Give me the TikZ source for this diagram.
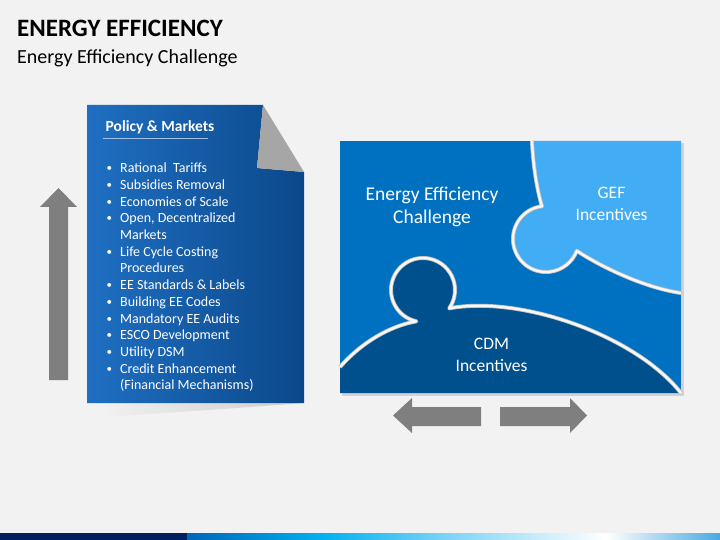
\documentclass[tikz,border=0pt]{standalone}
\usepackage{fontspec}
\setmainfont{Carlito}
\definecolor{bggray}{HTML}{F2F2F2}
\definecolor{arrowgray}{HTML}{7F7F7F}
\definecolor{flapgray}{HTML}{A6A6A6}
\definecolor{cardL}{HTML}{1F6FC2}
\definecolor{cardR}{HTML}{0B488A}
\definecolor{headline}{HTML}{9FBFE3}
\definecolor{midblue}{HTML}{0070C0}
\definecolor{gefblue}{HTML}{42ACF5}
\definecolor{cdmblue}{HTML}{01508E}
\definecolor{navy}{HTML}{002060}
\definecolor{stripeA}{HTML}{0066B8}
\definecolor{stripeB}{HTML}{00B0F0}
\definecolor{stripeC}{HTML}{80D4F6}
\definecolor{stripeD}{HTML}{4AA8E0}
\pgfdeclarehorizontalshading{stripe}{100bp}{color(0bp)=(stripeA); color(25bp)=(stripeA); color(37.6bp)=(stripeB); color(49.7bp)=(stripeC); color(64.3bp)=(white); color(75bp)=(stripeD); color(100bp)=(stripeD)}
\begin{document}
\begin{tikzpicture}[x=1pt, y=-1pt, line join=round, font=\fontsize{14}{16.7}\selectfont,
  seam/.style={draw=white!94!gray, line width=2.4pt, preaction={draw=gray!50, line width=4pt}},
  bigarrow/.style={fill=arrowgray},
  item/.style={anchor=base west, inner sep=0pt, text=white},
  piece/.style={text=white, align=center, inner sep=0pt, font=\fontsize{17.5}{22}\selectfont}]
\useasboundingbox (0,0) rectangle (720,540);
\fill[bggray] (0,0) rectangle (720,540);
% title
\node[anchor=base west, inner sep=0pt, font=\fontsize{25}{30}\selectfont\bfseries] (title) at (17,37) {ENERGY EFFICIENCY};
\node[anchor=base west, inner sep=0pt, font=\fontsize{20}{24}\selectfont] (subtitle) at (17,64) {Energy Efficiency Challenge};
% up arrow
\fill[bigarrow] (49,380) -- (49,207) -- (40,207) -- (58.5,188) -- (77,207) -- (68,207) -- (68,380) -- cycle;
% policy card
\shade[left color=bggray, right color=gray!40] (100,403) -- (304,403) .. controls (250,407) and (170,413) .. (100,417) -- cycle;
\shade[left color=cardL, right color=cardR] (87,105) -- (263,105) -- (257,168) -- (304,172) -- (304,403) -- (87,403) -- cycle;
\fill[flapgray] (263,105) -- (304,172) -- (257,168) -- cycle;
\node[item, font=\fontsize{15.5}{18}\selectfont\bfseries] (head) at (105.5,132) {Policy \& Markets};
\draw[headline, line width=0.6pt] (103,138) -- (208,138);
\foreach \bul/\lbl [count=\i from 0] in {1/Rational\ \ Tariffs, 1/Subsidies Removal, 1/Economies of Scale,
    1/{Open, Decentralized}, 0/Markets, 1/Life Cycle Costing, 0/Procedures, 1/EE Standards \& Labels,
    1/Building EE Codes, 1/Mandatory EE Audits, 1/ESCO Development, 1/Utility DSM,
    1/Credit Enhancement, 0/(Financial Mechanisms)}{
  \node[item] (item\i) at (120,{172.7+16.7*\i}) {\lbl};
  \ifnum\bul=1 \node[item, font=\fontsize{11}{13}\selectfont] (dot\i) at (106.5,{171.7+16.7*\i}) {\textbullet}; \fi
}
% puzzle
\fill[gray!35] (342,143) rectangle (684,396);
\fill[midblue] (340,141) rectangle (681,393);
\fill[gefblue] (532,141) .. controls (533,165) and (537,190) .. (541.98,206.25)
  arc[start angle=-97, end angle=-339, radius=33] .. controls (595,263) and (640,287) .. (681,293)
  -- (681,141) -- cycle;
\draw[seam] (532,141) .. controls (533,165) and (537,190) .. (541.98,206.25)
  arc[start angle=-97, end angle=-339, radius=33] .. controls (595,263) and (640,287) .. (681,293);
\fill[cdmblue] (340,367) .. controls (362,342) and (390,326) .. (416.35,321.3)
  arc[start angle=102, end angle=395, radius=32] .. controls (520,295) and (635,335) .. (681,393)
  -- (340,393) -- cycle;
\draw[seam] (340,367) .. controls (362,342) and (390,326) .. (416.35,321.3)
  arc[start angle=102, end angle=395, radius=32] .. controls (520,295) and (635,335) .. (681,393);
\node[piece, font=\fontsize{19.5}{23}\selectfont] (eec) at (432,206.5) {Energy Efficiency\\Challenge};
\node[piece] (gef) at (611.5,203.7) {GEF\\Incentives};
\node[piece] (cdm) at (491.5,354.5) {CDM\\Incentives};
% side arrows
\fill[bigarrow] (481,407) -- (412,407) -- (412,398) -- (393,415.5) -- (412,433) -- (412,426) -- (481,426) -- cycle;
\fill[bigarrow] (500,407) -- (570,407) -- (570,398) -- (587,415.5) -- (570,433) -- (570,426) -- (500,426) -- cycle;
% bottom stripe
\fill[navy] (0,533) rectangle (187,540);
\shade[shading=stripe] (187,533) rectangle (720,540);
\end{tikzpicture}
\end{document}
